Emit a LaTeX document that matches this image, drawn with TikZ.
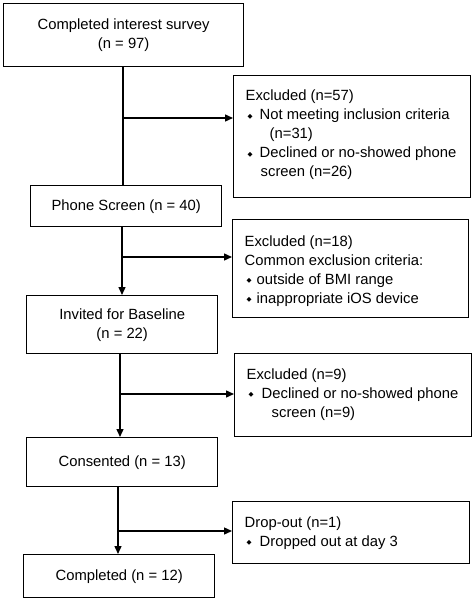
\documentclass[tikz,border=0pt]{standalone}
\usepackage{fontspec}
\setmainfont{Liberation Sans}
\newfontfamily\bulfont{DejaVu Sans}
\usetikzlibrary{arrows.meta,calc}
\newcommand{\bul}{{\bulfont\fontsize{6.5}{6.5}\selectfont\raisebox{1.5pt}{◆}}}
\begin{document}
\begin{tikzpicture}[x=1pt,y=-1pt,
  font=\fontsize{14.8}{19}\selectfont,
  line width=1.4pt,
  mainbox/.style={draw, anchor=north west, inner sep=0pt, align=center},
  exbox/.style={draw, anchor=north west, inner sep=0pt},
  extext/.style={anchor=north west, inner sep=0pt, align=left},
  arr/.style={-{Triangle[length=8pt,width=7pt]}}]
\useasboundingbox (0,0) rectangle (474,601);
% main boxes
\node[mainbox, minimum width=240pt, minimum height=63pt] (b1) at (3,3) {Completed interest survey\\(n = 97)};
\node[mainbox, minimum width=191pt, minimum height=41pt] (b2) at (30,185) {Phone Screen (n = 40)};
\node[mainbox, minimum width=191pt, minimum height=58pt] (b3) at (26,295) {Invited for Baseline\\(n = 22)};
\node[mainbox, minimum width=191pt, minimum height=49pt] (b4) at (26,437) {Consented (n = 13)};
\node[mainbox, minimum width=191pt, minimum height=43pt] (b5) at (23,554) {Completed (n = 12)};
% exclusion boxes
\node[exbox, minimum width=237pt, minimum height=122pt] (e1) at (233,75) {};
\node[exbox, minimum width=236pt, minimum height=98pt] (e2) at (232,219) {};
\node[exbox, minimum width=237pt, minimum height=83pt] (e3) at (234,353) {};
\node[exbox, minimum width=237pt, minimum height=62pt] (e4) at (232,501) {};
\node[extext] (t1) at ($(e1.north west)+(12,12)$) {%
  \begin{tabular}{@{}l@{\hspace{7pt}}l@{}}
  \multicolumn{2}{@{}l@{}}{Excluded (n=57)}\\
  \hspace{2pt}\bul & Not meeting inclusion criteria\\
  & \hspace{10pt}(n=31)\\
  \hspace{2pt}\bul & Declined or no-showed phone\\
  & \hspace{1pt}screen (n=26)
  \end{tabular}};
\node[extext] (t2) at ($(e2.north west)+(12,13)$) {%
  \begin{tabular}{@{}l@{\hspace{5pt}}l@{}}
  \multicolumn{2}{@{}l@{}}{Excluded (n=18)}\\
  \multicolumn{2}{@{}l@{}}{Common exclusion criteria:}\\
  \hspace{2pt}\bul & outside of BMI range\\
  \hspace{2pt}\bul & inappropriate iOS device
  \end{tabular}};
\node[extext] (t3) at ($(e3.north west)+(12,12)$) {%
  \begin{tabular}{@{}l@{\hspace{8pt}}l@{}}
  \multicolumn{2}{@{}l@{}}{Excluded (n=9)}\\
  \hspace{2pt}\bul & Declined or no-showed phone\\
  & \hspace{10pt}screen (n=9)
  \end{tabular}};
\node[extext] (t4) at ($(e4.north west)+(12,12)$) {%
  \begin{tabular}{@{}l@{\hspace{8pt}}l@{}}
  \multicolumn{2}{@{}l@{}}{Drop-out (n=1)}\\
  \hspace{2pt}\bul & Dropped out at day 3
  \end{tabular}};
% junction coordinates
\coordinate (j1) at (123,118);
\coordinate (j2) at (122,257);
\coordinate (j3) at (120,394);
\coordinate (j4) at (118,531);
% connectors
\draw (b1.south -| j1) -- (b2.north -| j1);
\draw[arr] (j1) -- (j1 -| e1.west);
\draw[arr] (b2.south -| j2) -- (b3.north -| j2);
\draw[arr] (j2) -- (j2 -| e2.west);
\draw[arr] (b3.south -| j3) -- (b4.north -| j3);
\draw[arr] (j3) -- (j3 -| e3.west);
\draw[arr] (b4.south -| j4) -- (b5.north -| j4);
\draw[arr] (j4) -- (j4 -| e4.west);
\end{tikzpicture}
\end{document}
